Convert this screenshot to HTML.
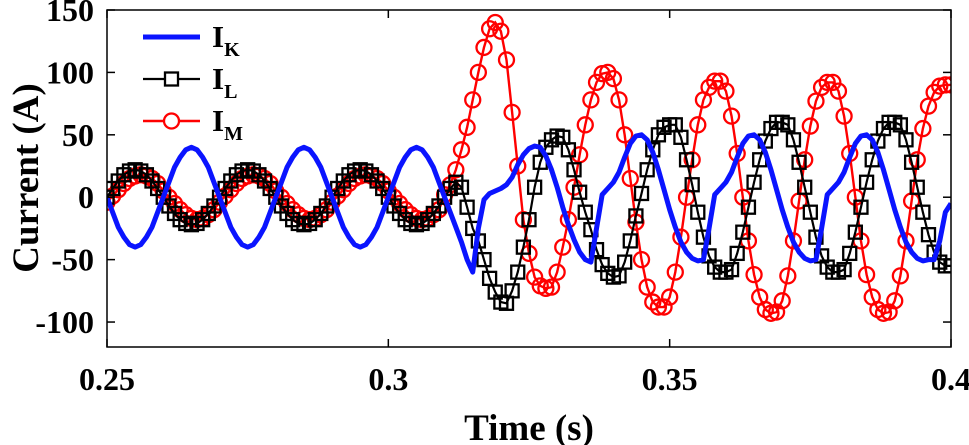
<!DOCTYPE html>
<html><head><meta charset="utf-8"><style>
html,body{margin:0;padding:0;background:#fff;}
svg{display:block;font-family:"Liberation Serif",serif;font-weight:bold;}
</style></head><body>
<svg id="chart" width="969" height="445" viewBox="0 0 969 445" xmlns="http://www.w3.org/2000/svg"></svg>
<script>
const t0 = 0.25;
const dt = 0.001;
const xTicks = [0.25, 0.3, 0.35, 0.4];
const xTickLabels = ["0.25", "0.3", "0.35", "0.4"];
const yTicks = [150, 100, 50, 0, -50, -100];
const yTickLabels = ["150", "100", "50", "0", "-50", "-100"];
const seriesNames = ["K", "L", "M"];
const IK = [0,-12,-24,-32,-38,-40,-38,-32,-24,-12,0,12,24,32,38,40,38,32,24,12,
0,-12,-24,-32,-38,-40,-38,-32,-24,-12,0,12,24,32,38,40,38,32,24,12,
0,-12,-24,-32,-38,-40,-38,-32,-24,-12,0,12,24,32,38,40,38,32,24,12,
0,-12,-24,-36,-50,
-60,-25,-2,3,5,7,10,16,26,34,39,41,40,33,22,8,-8,-22,-34,-44,-50,-52,
-25,2,7,12,20,32,43,49,50,46,36,22,6,-10,-24,-36,-44,-49,-51,-50,
-25,2,7,12,20,32,43,49,50,46,36,22,6,-10,-24,-36,-44,-49,-51,-50,
-25,2,7,12,20,32,43,49,50,46,36,22,6,-10,-24,-36,-44,-49,-51,-50,
-50,-35,-12,-5];
const IL = [0,7,13,18,21,22,21,18,13,7,0,-7,-13,-18,-21,-22,-21,-18,-13,-7,
0,7,13,18,21,22,21,18,13,7,0,-7,-13,-18,-21,-22,-21,-18,-13,-7,
0,7,13,18,21,22,21,18,13,7,0,-7,-13,-18,-21,-22,-21,-18,-13,-7,
0,
7,12,8,-8,-25,-35,-50,-65,-76,-84,
-85,-75,-60,-40,-18,8,28,40,46,49,
48,38,22,4,-12,-26,-42,-54,-61,-64,
-63,-52,-35,-15,3,22,38,50,56,58,
58,48,30,10,-12,-32,-47,-56,-60,-60,
-58,-45,-28,-8,12,30,45,55,60,60,
58,46,28,8,-12,-32,-47,-56,-60,-60,
-58,-45,-28,-8,12,30,45,55,60,60,
58,46,28,8,-12,-30,-44,-52,-55,-55];
const IM = [-4,1,6,11,15,17,18,17,15,11,5,0,-5,-10,-14,-17,-18,-17,-14,-10,
-4,1,6,11,15,17,18,17,15,11,5,0,-5,-10,-14,-17,-18,-17,-14,-10,
-4,1,6,11,15,17,18,17,15,11,5,0,-5,-10,-14,-17,-18,-17,-14,-10,
2,10,22,
38,56,78,100,120,135,140,133,110,68,
25,-18,-45,-64,-71,-73,-72,-60,-40,-18,
8,34,58,78,92,99,100,95,78,50,
15,-20,-50,-72,-84,-88,-88,-80,-60,-32,
0,30,58,78,88,93,93,85,65,35,
0,-35,-62,-80,-90,-93,-92,-83,-63,-35,
-3,30,57,77,88,92,92,85,65,35,
0,-35,-62,-80,-90,-93,-92,-83,-63,-35,
-3,30,55,73,84,89,90,90];

const NS = "http://www.w3.org/2000/svg";
const svg = document.getElementById('chart');
const L = 107, R = 951, T = 10, B = 347;
const xMin = 0.25, xMax = 0.4, yMin = -120, yMax = 150;
function xs(v){ return L + (v - xMin) / (xMax - xMin) * (R - L); }
function ys(v){ return B - (v - yMin) / (yMax - yMin) * (B - T); }
function mk(tag, attrs, parent){
  const e = document.createElementNS(NS, tag);
  for (const k in attrs) e.setAttribute(k, attrs[k]);
  (parent || svg).appendChild(e);
  return e;
}
const defs = mk('defs', {});
const cp = mk('clipPath', {id:'clip'}, defs);
mk('rect', {x:L, y:T, width:R-L, height:B-T}, cp);

const plot = mk('g', {'clip-path':'url(#clip)'});



function pts(arr){ return arr.map((v,i)=> xs(t0 + i*dt).toFixed(2) + ',' + ys(v).toFixed(2)).join(' '); }

const gM = mk('g', {}, plot);


mk('polyline', {points:pts(IM), fill:'none', stroke:'#ff0000', 'stroke-width':2.4}, gM);
IM.forEach((v,i)=>{
  const c = mk('circle', {cx:xs(t0+i*dt), cy:ys(v), r:7.5, fill:'none', stroke:'#ff0000', 'stroke-width':2.3}, gM);
  
  
});
const gL = mk('g', {}, plot);


mk('polyline', {points:pts(IL), fill:'none', stroke:'#000', 'stroke-width':2.2}, gL);
IL.forEach((v,i)=>{
  const r = mk('rect', {x:xs(t0+i*dt)-6.5, y:ys(v)-6.5, width:13, height:13, fill:'none', stroke:'#000', 'stroke-width':2.3}, gL);
  
  
});
const gK = mk('g', {}, plot);


mk('polyline', {points:pts(IK), fill:'none', stroke:'#0a14ff', 'stroke-width':5, 'stroke-linejoin':'round'}, gK);

const box = mk('rect', {x:L, y:T, width:R-L, height:B-T, fill:'none', stroke:'#000', 'stroke-width':1.5});



xTicks.forEach((v,i)=>{
  const x = xs(v);
  mk('line', {x1:x, y1:B, x2:x, y2:B-8, stroke:'#000', 'stroke-width':1.5});
  mk('line', {x1:x, y1:T, x2:x, y2:T+8, stroke:'#000', 'stroke-width':1.5});
  const tx = mk('text', {x:x, y:390, 'text-anchor':'middle', 'font-size':32});
  tx.textContent = xTickLabels[i];
  
  
});
yTicks.forEach((v,i)=>{
  const y = ys(v);
  mk('line', {x1:L, y1:y, x2:L+8, y2:y, stroke:'#000', 'stroke-width':1.5});
  mk('line', {x1:R, y1:y, x2:R-8, y2:y, stroke:'#000', 'stroke-width':1.5});
  const tx = mk('text', {x:94, y:y+11, 'text-anchor':'end', 'font-size':32});
  tx.textContent = yTickLabels[i];
  
  
});

const xt = mk('text', {x:529, y:440, 'text-anchor':'middle', 'font-size':37});
xt.textContent = 'Time (s)';


const yt = mk('text', {x:0, y:0, 'text-anchor':'middle', 'font-size':37, transform:'translate(38,178) rotate(-90)'});
yt.textContent = 'Current (A)';



const leg = mk('g', {});


const rowsY = [37, 79, 121];
seriesNames.forEach((n,i)=>{
  const g = mk('g', {}, leg);
  
  
  const y = rowsY[i];
  if (i === 0) {
    mk('line', {x1:143, y1:y, x2:200, y2:y, stroke:'#0a14ff', 'stroke-width':5}, g);
  } else if (i === 1) {
    mk('line', {x1:143, y1:y, x2:200, y2:y, stroke:'#000', 'stroke-width':2.2}, g);
    mk('rect', {x:165, y:y-6.5, width:13, height:13, fill:'#fff', stroke:'#000', 'stroke-width':2.3}, g);
  } else {
    mk('line', {x1:143, y1:y, x2:200, y2:y, stroke:'#ff0000', 'stroke-width':2.4}, g);
    mk('circle', {cx:171.5, cy:y, r:7.5, fill:'#fff', stroke:'#ff0000', 'stroke-width':2.3}, g);
  }
  const tx = mk('text', {x:212, y:y+10, 'font-size':31}, g);
  tx.textContent = 'I';
  const sub = mk('tspan', {dy:9, 'font-size':20}, tx);
  sub.textContent = n;
});
</script>
</body></html>
